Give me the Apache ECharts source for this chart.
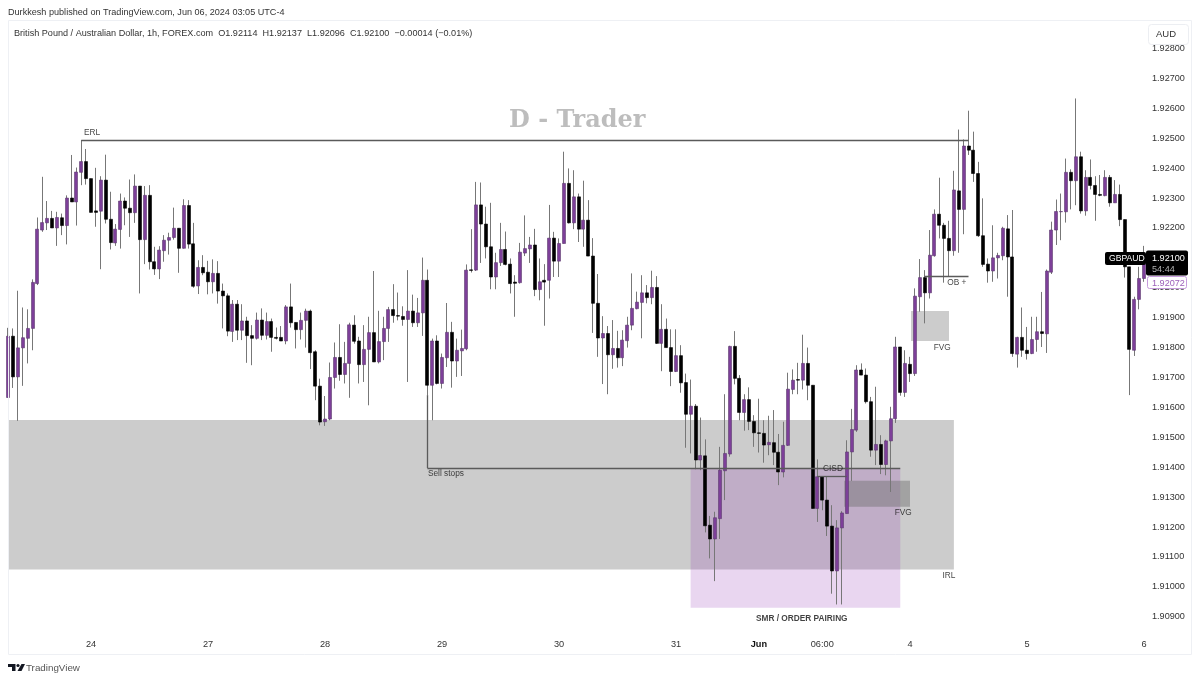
<!DOCTYPE html>
<html>
<head>
<meta charset="utf-8">
<title>GBPAUD 1h</title>
<script src="https://cdn.jsdelivr.net/npm/echarts@6/dist/echarts.min.js"></script>
<style>
html, body { margin: 0; padding: 0; background: #fff; }
#chart { width: 1200px; height: 681px; }
</style>
</head>
<body>
<div id="chart"></div>
<script>
// hourly candles, first one is 17 trading hours before May 24 00:00
const firstHour = -17;
const opens = [
1.91633,1.91838,1.91702,1.91799,1.91831,1.91864,1.92014,1.92193,1.92217,1.92232,
1.92200,1.92234,1.92208,1.92300,1.92287,1.92386,1.92422,1.92365,1.92257,1.92256,
1.92360,1.92229,1.92150,1.92195,1.92290,1.92266,1.92251,1.92340,1.92161,1.92309,
1.92087,1.92063,1.92124,1.92159,1.92168,1.92199,1.92132,1.92275,1.92147,1.92006,
1.92068,1.92052,1.92020,1.92048,1.91989,1.91973,1.91854,1.91945,1.91858,1.91889,
1.91840,1.91831,1.91892,1.91841,1.91887,1.91834,1.91834,1.91822,1.91936,1.91884,
1.91860,1.91891,1.91922,1.91786,1.91671,1.91552,1.91561,1.91700,1.91767,1.91710,
1.91747,1.91875,1.91822,1.91743,1.91794,1.91850,1.91752,1.91820,1.91864,1.91927,
1.91907,1.91904,1.91894,1.91922,1.91883,1.91916,1.92025,1.91674,1.91822,1.91680,
1.91766,1.91851,1.91755,1.91789,1.91796,1.92060,1.92059,1.92277,1.92213,1.92137,
1.92036,1.92084,1.92128,1.92079,1.92019,1.92017,1.92116,1.92130,1.92143,1.91994,
1.92025,1.92025,1.92166,1.92089,1.92148,1.92349,1.92217,1.92304,1.92196,1.92226,
1.92106,1.91948,1.91832,1.91847,1.91776,1.91797,1.91766,1.91823,1.91875,1.91930,
1.91951,1.91983,1.91967,1.92001,1.91814,1.91861,1.91800,1.91720,1.91773,1.91683,
1.91577,1.91604,1.91424,1.91438,1.91206,1.91160,1.91228,1.91388,1.91444,1.91804,
1.91697,1.91583,1.91626,1.91553,1.91515,1.91513,1.91475,1.91482,1.91450,1.91384,
1.91473,1.91660,1.91693,1.91691,1.91747,1.91674,1.91262,1.91368,1.91290,1.91203,
1.91053,1.91197,1.91245,1.91451,1.91524,1.91725,1.91708,1.91619,1.91457,1.91476,
1.91409,1.91488,1.91562,1.91802,1.91650,1.91744,1.91713,1.91970,1.92034,1.91983,
1.92107,1.92246,1.92209,1.92165,1.92124,1.92324,1.92262,1.92474,1.92460,1.92382,
1.92174,1.92079,1.92056,1.92100,1.92107,1.92197,1.92103,1.91778,1.91834,1.91791,
1.91780,1.91827,1.91853,1.91846,1.92052,1.92193,1.92254,1.92254,1.92386,1.92358,
1.92438,1.92257,1.92369,1.92342,1.92312,1.92308,1.92369,1.92284,1.92312,1.92228,
1.92070,1.91791,1.91961,1.92031,1.92114
];
const closes = [
1.91838,1.91702,1.91799,1.91833,1.91864,1.92018,1.92196,1.92218,1.92232,1.92200,
1.92235,1.92208,1.92300,1.92287,1.92387,1.92422,1.92365,1.92252,1.92252,1.92360,
1.92229,1.92151,1.92196,1.92290,1.92266,1.92251,1.92340,1.92161,1.92309,1.92087,
1.92063,1.92126,1.92159,1.92168,1.92199,1.92132,1.92275,1.92146,1.92005,1.92068,
1.92050,1.92020,1.92048,1.91989,1.91973,1.91855,1.91945,1.91858,1.91889,1.91840,
1.91831,1.91892,1.91841,1.91887,1.91834,1.91831,1.91822,1.91936,1.91883,1.91860,
1.91891,1.91922,1.91783,1.91671,1.91551,1.91561,1.91700,1.91767,1.91710,1.91747,
1.91876,1.91821,1.91743,1.91794,1.91850,1.91752,1.91820,1.91864,1.91927,1.91907,
1.91905,1.91894,1.91922,1.91883,1.91916,1.92025,1.91674,1.91822,1.91680,1.91767,
1.91851,1.91755,1.91791,1.91797,1.92059,1.92058,1.92277,1.92213,1.92137,1.92036,
1.92084,1.92128,1.92078,1.92014,1.92015,1.92119,1.92131,1.92143,1.91994,1.92020,
1.92019,1.92166,1.92089,1.92148,1.92349,1.92217,1.92304,1.92196,1.92226,1.92106,
1.91948,1.91832,1.91847,1.91776,1.91797,1.91766,1.91825,1.91875,1.91931,1.91952,
1.91983,1.91967,1.92001,1.91814,1.91861,1.91800,1.91720,1.91773,1.91682,1.91577,
1.91604,1.91424,1.91439,1.91204,1.91160,1.91231,1.91390,1.91446,1.91804,1.91697,
1.91583,1.91626,1.91553,1.91515,1.91513,1.91474,1.91483,1.91450,1.91384,1.91473,
1.91661,1.91691,1.91691,1.91747,1.91674,1.91262,1.91368,1.91290,1.91203,1.91053,
1.91197,1.91247,1.91451,1.91526,1.91725,1.91708,1.91619,1.91457,1.91476,1.91409,
1.91488,1.91562,1.91802,1.91650,1.91747,1.91713,1.91972,1.92034,1.91983,1.92109,
1.92246,1.92209,1.92165,1.92124,1.92327,1.92262,1.92474,1.92460,1.92382,1.92174,
1.92078,1.92056,1.92100,1.92108,1.92199,1.92103,1.91780,1.91834,1.91791,1.91780,
1.91827,1.91853,1.91847,1.92056,1.92193,1.92255,1.92255,1.92386,1.92358,1.92438,
1.92257,1.92369,1.92342,1.92312,1.92309,1.92369,1.92284,1.92312,1.92228,1.92070,
1.91794,1.91961,1.92031,1.92114,1.92100
];
const lows = [
1.91633,1.91665,1.91555,1.91672,1.91747,1.91791,1.92009,1.92187,1.92193,1.92200,
1.92140,1.92176,1.92145,1.92287,1.92208,1.92343,1.92345,1.92252,1.92204,1.92062,
1.92215,1.92128,1.92140,1.92131,1.92209,1.92170,1.92217,1.91981,1.92079,1.92061,
1.92043,1.92029,1.92087,1.92111,1.92161,1.92050,1.92131,1.92131,1.92000,1.91979,
1.92042,1.91978,1.91981,1.91947,1.91864,1.91838,1.91819,1.91825,1.91825,1.91749,
1.91741,1.91827,1.91825,1.91827,1.91786,1.91827,1.91822,1.91811,1.91867,1.91797,
1.91827,1.91800,1.91728,1.91624,1.91540,1.91538,1.91557,1.91663,1.91689,1.91680,
1.91632,1.91813,1.91680,1.91685,1.91607,1.91752,1.91747,1.91758,1.91819,1.91883,
1.91891,1.91873,1.91685,1.91869,1.91869,1.91839,1.91641,1.91557,1.91677,1.91663,
1.91735,1.91666,1.91702,1.91705,1.91791,1.92051,1.92056,1.92083,1.92098,1.91995,
1.91995,1.92073,1.92075,1.91981,1.91903,1.92014,1.92106,1.92083,1.91972,1.91958,
1.91873,1.91964,1.92036,1.92036,1.92148,1.92215,1.92196,1.92153,1.92137,1.92106,
1.91849,1.91769,1.91678,1.91644,1.91729,1.91733,1.91738,1.91800,1.91858,1.91928,
1.91831,1.91948,1.91945,1.91812,1.91721,1.91800,1.91671,1.91718,1.91649,1.91465,
1.91446,1.91393,1.91390,1.91182,1.91095,1.91019,1.91160,1.91290,1.91435,1.91677,
1.91557,1.91522,1.91524,1.91468,1.91449,1.91415,1.91440,1.91407,1.91340,1.91366,
1.91471,1.91644,1.91644,1.91660,1.91624,1.91262,1.91217,1.91256,1.91170,1.90977,
1.90941,1.90941,1.91245,1.91354,1.91518,1.91708,1.91613,1.91435,1.91407,1.91377,
1.91373,1.91317,1.91548,1.91639,1.91635,1.91685,1.91705,1.91920,1.91881,1.91964,
1.92104,1.92165,1.92017,1.92037,1.92107,1.92117,1.92179,1.92444,1.92354,1.92170,
1.92070,1.92017,1.92020,1.92031,1.92092,1.91970,1.91769,1.91733,1.91769,1.91760,
1.91778,1.91786,1.91802,1.91782,1.92046,1.92143,1.92159,1.92218,1.92262,1.92276,
1.92248,1.92241,1.92329,1.92224,1.92306,1.92306,1.92271,1.92284,1.92206,1.92034,
1.91641,1.91772,1.91928,1.92020,1.92096
];
const highs = [
1.91866,1.91864,1.91990,1.91934,1.91928,1.92028,1.92235,1.92371,1.92290,1.92257,
1.92254,1.92248,1.92309,1.92444,1.92402,1.92494,1.92464,1.92365,1.92401,1.92373,
1.92445,1.92321,1.92213,1.92315,1.92302,1.92362,1.92379,1.92340,1.92340,1.92343,
1.92137,1.92139,1.92176,1.92184,1.92268,1.92199,1.92296,1.92293,1.92217,1.92092,
1.92109,1.92090,1.92095,1.92089,1.92014,1.91981,1.91959,1.91959,1.91945,1.91903,
1.91875,1.91917,1.91931,1.91917,1.91897,1.91867,1.91872,1.91942,1.92014,1.91884,
1.91917,1.91930,1.91927,1.91791,1.91696,1.91638,1.91750,1.91817,1.91878,1.91819,
1.91883,1.91908,1.91836,1.91875,1.91903,1.92056,1.91923,1.91903,1.91936,1.92012,
1.91984,1.91938,1.92059,1.91977,1.91966,1.92101,1.92061,1.91830,1.91841,1.91780,
1.91949,1.91886,1.91830,1.91860,1.92078,1.92196,1.92354,1.92352,1.92271,1.92284,
1.92117,1.92217,1.92188,1.92098,1.92042,1.92150,1.92242,1.92170,1.92197,1.92098,
1.92079,1.92277,1.92187,1.92165,1.92455,1.92399,1.92393,1.92315,1.92358,1.92293,
1.92166,1.92046,1.91905,1.91872,1.91892,1.91856,1.91858,1.91903,1.92048,1.91987,
1.92042,1.92009,1.92057,1.92039,1.91945,1.91897,1.91861,1.91861,1.91808,1.91713,
1.91693,1.91611,1.91566,1.91493,1.91237,1.91251,1.91468,1.91644,1.91806,1.91855,
1.91708,1.91644,1.91667,1.91574,1.91629,1.91557,1.91572,1.91591,1.91511,1.91552,
1.91716,1.91727,1.91749,1.91843,1.91800,1.91674,1.91426,1.91368,1.91368,1.91273,
1.91223,1.91253,1.91490,1.91595,1.91741,1.91747,1.91730,1.91635,1.91669,1.91507,
1.91492,1.91602,1.91836,1.91802,1.91791,1.91769,1.91998,1.92096,1.92059,1.92193,
1.92262,1.92368,1.92217,1.92224,1.92391,1.92529,1.92496,1.92592,1.92522,1.92421,
1.92299,1.92098,1.92209,1.92117,1.92204,1.92243,1.92260,1.91836,1.91934,1.91869,
1.91903,1.91903,1.91986,1.92061,1.92221,1.92295,1.92315,1.92432,1.92396,1.92633,
1.92455,1.92393,1.92429,1.92373,1.92377,1.92393,1.92377,1.92360,1.92345,1.92228,
1.92070,1.91970,1.92070,1.92140,1.92137
];

const priceTicks = [1.909,1.91,1.911,1.912,1.913,1.914,1.915,1.916,1.917,1.918,1.919,1.92,1.921,1.922,1.923,1.924,1.925,1.926,1.927,1.928];
const timeTickHours = [0,24,48,72,96,120,137,150,168,192,216];
const timeTickLabels = ["24","27","28","29","30","31","Jun","06:00","4","5","6"];

// drawings: [hourFrom, priceTop, hourTo, priceBottom]
const irlZone = [-17.03, 1.91558, 177, 1.91058];
const smrZone = [123, 1.91397, 166, 1.90930];
const fvgLow = [154.5, 1.91355, 168, 1.91268];
const fvgHigh = [168.2, 1.91922, 176, 1.91822];
// [hourFrom, priceFrom, hourTo, priceTo]
const trendLines = [
    [-2, 1.92494, 180, 1.92494],
    [69, 1.91641, 69, 1.91397],
    [69, 1.91397, 166, 1.91397],
    [149, 1.91370, 155, 1.91370],
    [171, 1.92037, 180, 1.92037]
];
const noteNames = ["ERL", "Sell stops", "CISD", "FVG", "FVG", "OB +", "IRL"];
const noteHours = [0.2, 72.8, 152.2, 166.6, 174.6, 177.6, 176];
const notePrices = [1.92517, 1.91377, 1.91394, 1.91247, 1.91798, 1.92016, 1.91036];

const upColor = "#7d3f99";
const downColor = "#000000";
const wickColor = "#777777";

const wicks = opens.map((o, i) => [i + firstHour, o, closes[i], lows[i], highs[i]]);
const bodies = opens.map((o, i) => [i + firstHour, o, closes[i], Math.min(o, closes[i]), Math.max(o, closes[i])]);

function zoneArea(zone, color) {
    return [
        { coord: [zone[0], zone[1]], itemStyle: { color: color } },
        { coord: [zone[2], zone[3]] }
    ];
}

function txt(x, y, text, style) {
    return { type: "text", x: x, y: y, z: 100, silent: true, style: Object.assign({ text: text, fill: "#333", fontFamily: "Liberation Sans", fontSize: 9.1, textVerticalAlign: "middle" }, style) };
}

function box(x, y, w, h, fill, stroke, r) {
    return { type: "rect", z: 99, silent: true, shape: { x: x, y: y, width: w, height: h, r: r || 0 }, style: { fill: fill, stroke: stroke || null, lineWidth: 1 } };
}

const overlay = [
    box(8.5, 20.5, 1183, 634, "none", "#eef0f4"),
    txt(8, 12, "Durkkesh published on TradingView.com, Jun 06, 2024 03:05 UTC-4"),
    txt(14, 33, "British Pound / Australian Dollar, 1h, FOREX.com  O1.92114  H1.92137  L1.92096  C1.92100  \u22120.00014 (\u22120.01%)"),
    txt(509, 121, "D - Trader", { fontFamily: "DejaVu Serif", fontWeight: "bold", fontSize: 24, fill: "#bdbdbd" }),
    box(1148.5, 24.5, 40, 20, "#fff", "#eceef2", 3),
    txt(1156, 34, "AUD", { fontSize: 9.5 }),
    box(1105, 252, 41, 13, "#000", null, 2),
    txt(1109, 258.5, "GBPAUD", { fill: "#fff", fontSize: 8.6 }),
    box(1146, 250.5, 42, 25, "#000", null, 2),
    txt(1152, 258, "1.92100", { fill: "#fff" }),
    txt(1152, 269, "54:44", { fill: "#b0b0b0" }),
    box(1147.5, 276.5, 39, 12, "#fff", "#c79cdc", 2),
    txt(1152, 283, "1.92072", { fill: "#9c5fb9" }),
    { type: "polygon", z: 100, silent: true, shape: { points: [[8, 664], [15.5, 664], [15.5, 671], [12, 671], [12, 667], [8, 667]] }, style: { fill: "#131722" } },
    { type: "circle", z: 100, silent: true, shape: { cx: 18, cy: 665.5, r: 1.6 }, style: { fill: "#131722" } },
    { type: "polygon", z: 100, silent: true, shape: { points: [[21.5, 664], [25, 664], [21.5, 671], [17.5, 671]] }, style: { fill: "#131722" } },
    txt(26, 668, "TradingView", { fontSize: 9.8, fill: "#555" })
];

const chart = echarts.init(document.getElementById("chart"), null, { renderer: "canvas" });
chart.setOption({
    animation: false,
    backgroundColor: "#fff",
    grid: { left: 8, right: 52, top: 21, bottom: 26, containLabel: false },
    xAxis: {
        type: "value",
        min: -17.03,
        max: 216.82,
        axisLine: { show: false },
        axisTick: { show: false },
        splitLine: { show: false },
        axisLabel: {
            customValues: timeTickHours,
            inside: true,
            margin: 6,
            color: "#333",
            fontFamily: "Liberation Sans",
            fontSize: 9.2,
            formatter: (v) => {
                const label = timeTickLabels[timeTickHours.indexOf(v)];
                return label === "Jun" ? "{b|Jun}" : label;
            },
            rich: { b: { fontWeight: "bold", fontSize: 9.2, color: "#111", fontFamily: "Liberation Sans" } }
        }
    },
    yAxis: {
        type: "value",
        position: "right",
        min: 1.90772,
        max: 1.92892,
        axisLine: { show: false },
        axisTick: { show: false },
        splitLine: { show: false },
        axisLabel: {
            customValues: priceTicks,
            margin: 4,
            padding: [2, 0, 0, 0],
            color: "#333",
            fontFamily: "Liberation Sans",
            fontSize: 9.1,
            formatter: (v) => v.toFixed(5)
        }
    },
    series: [
        {
            type: "line",
            data: [],
            z: 1,
            silent: true,
            markArea: {
                silent: true,
                data: [
                    zoneArea(irlZone, "#cccccc"),
                    zoneArea(fvgHigh, "#cccccc"),
                    zoneArea(smrZone, "rgba(147,52,180,0.2)"),
                    zoneArea(fvgLow, "rgba(110,110,110,0.45)")
                ]
            }
        },
        {
            type: "candlestick",
            data: wicks,
            z: 3,
            barWidth: 1,
            silent: true,
            itemStyle: { color: wickColor, color0: wickColor, borderColor: wickColor, borderColor0: wickColor, borderWidth: 1 }
        },
        {
            type: "candlestick",
            data: bodies,
            z: 4,
            barWidth: 3.5,
            silent: true,
            itemStyle: { color: upColor, color0: downColor, borderColor: "#5c3a6e", borderColor0: downColor, borderWidth: 0.6 }
        },
        {
            type: "line",
            data: [],
            z: 5,
            silent: true,
            markLine: {
                silent: true,
                symbol: "none",
                label: { show: false },
                lineStyle: { color: "#5a5a5a", width: 1.3, type: "solid" },
                data: trendLines.map((l) => [{ coord: [l[0], l[1]] }, { coord: [l[2], l[3]] }])
            }
        },
        {
            type: "scatter",
            z: 6,
            silent: true,
            symbolSize: 1,
            itemStyle: { color: "transparent" },
            label: { show: true, position: "inside", formatter: "{b}", color: "#111", fontFamily: "Liberation Sans", fontSize: 8.3 },
            data: noteNames.map((n, i) => ({ name: n, value: [noteHours[i], notePrices[i]] }))
        },
        {
            type: "scatter",
            z: 6,
            silent: true,
            symbolSize: 1,
            itemStyle: { color: "transparent" },
            label: { show: true, position: "inside", formatter: "{b}", color: "#111", fontFamily: "Liberation Sans", fontSize: 8.3, fontWeight: "bold" },
            data: [{ name: "SMR / ORDER PAIRING", value: [145.8, 1.90892] }]
        }
    ],
    graphic: overlay
});
</script>
</body>
</html>
